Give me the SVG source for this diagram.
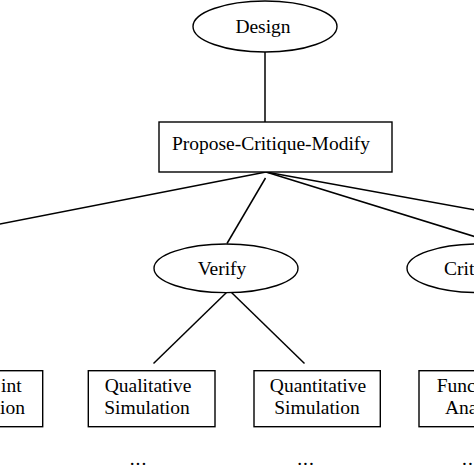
<svg xmlns="http://www.w3.org/2000/svg" width="474" height="474" viewBox="0 0 474 474">
<style>
.s{fill:#fff;stroke:#000;stroke-width:1.4}
.t{font-family:"Liberation Serif","Times New Roman",serif;font-size:19.5px;fill:#000}
.c{stroke:#000;stroke-width:1.5;fill:none}
</style>
<rect width="474" height="474" fill="#fff"/>
<g id="connectors">
<line class="c" x1="265" y1="52" x2="265" y2="122"/>
<line class="c" x1="266" y1="172" x2="-10" y2="226"/>
<line class="c" x1="265.5" y1="178" x2="227" y2="243.5"/>
<line class="c" x1="266" y1="172" x2="476" y2="237"/>
<line class="c" x1="266" y1="172" x2="476" y2="210"/>
<line class="c" x1="226.5" y1="292.5" x2="153.5" y2="363.5"/>
<line class="c" x1="231.5" y1="292.5" x2="304.5" y2="363.5"/>
</g>
<g id="design">
<ellipse class="s" cx="265" cy="26.5" rx="72" ry="25.5"/>
<text class="t" x="263" y="33" text-anchor="middle">Design</text>
</g>
<g id="pcm">
<rect class="s" x="159" y="122" width="233" height="50"/>
<text class="t" x="271" y="150" text-anchor="middle">Propose-Critique-Modify</text>
</g>
<g id="verify">
<ellipse class="s" cx="226" cy="268.3" rx="72" ry="24.3"/>
<text class="t" x="222" y="274.5" text-anchor="middle">Verify</text>
</g>
<g id="critique">
<ellipse class="s" cx="479" cy="268.3" rx="72" ry="24.3"/>
<text class="t" x="444" y="274.5">Crit</text>
</g>
<g id="left-box">
<rect class="s" x="-85" y="370.7" width="127.7" height="56"/>
<text class="t" x="21.7" y="392" text-anchor="end">int</text>
<text class="t" x="25" y="413.5" text-anchor="end">ion</text>
</g>
<g id="qualitative">
<rect class="s" x="88.3" y="370.7" width="126.7" height="56"/>
<text class="t" x="148" y="392" text-anchor="middle">Qualitative</text>
<text class="t" x="147" y="413.5" text-anchor="middle">Simulation</text>
<text class="t" x="138.5" y="465" text-anchor="middle" letter-spacing="1">...</text>
</g>
<g id="quantitative">
<rect class="s" x="254" y="370.7" width="126.3" height="56"/>
<text class="t" x="318" y="392" text-anchor="middle">Quantitative</text>
<text class="t" x="317" y="413.5" text-anchor="middle">Simulation</text>
<text class="t" x="306" y="465" text-anchor="middle" letter-spacing="1">...</text>
</g>
<g id="functional">
<rect class="s" x="419" y="370.7" width="127" height="56"/>
<text class="t" x="436.7" y="392">Func</text>
<text class="t" x="445" y="413.5">Ana</text>
<text class="t" x="462" y="465" letter-spacing="1">..</text>
</g>
</svg>
